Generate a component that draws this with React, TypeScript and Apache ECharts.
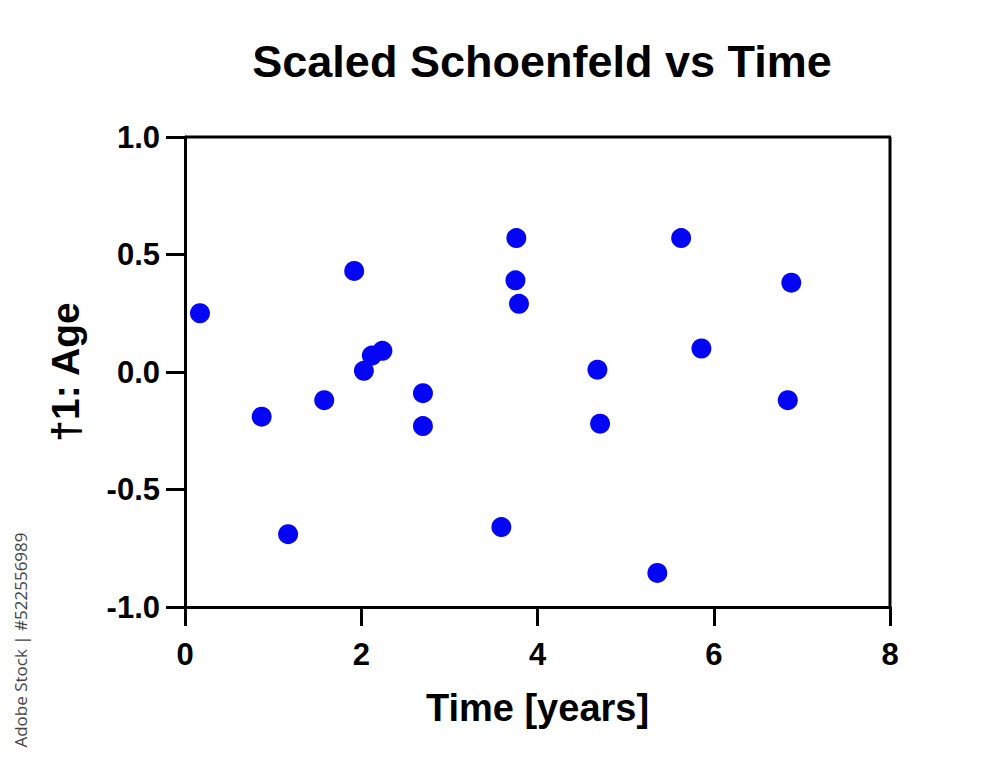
import React, { useEffect, useRef } from "react";
import * as echarts from "echarts";

const timeValues = [0.17, 0.87, 1.17, 1.58, 1.92, 2.03, 2.12, 2.24, 2.7, 2.7, 3.59, 3.76, 3.75, 3.79, 4.68, 4.71, 5.36, 5.63, 5.86, 6.84, 6.88];
const residualValues = [0.25, -0.19, -0.69, -0.12, 0.43, 0.005, 0.07, 0.09, -0.09, -0.23, -0.66, 0.57, 0.39, 0.29, 0.01, -0.22, -0.855, 0.57, 0.1, -0.12, 0.38];
const xTicks = [0, 2, 4, 6, 8];
const yTicks = [-1.0, -0.5, 0.0, 0.5, 1.0];

const FONT = "'Liberation Sans', Arial, Helvetica, sans-serif";

export default function App() {
  const ref = useRef<HTMLDivElement>(null);
  useEffect(() => {
    document.body.style.margin = "0";
    const chart = echarts.init(ref.current!, null, { renderer: "svg" });
    const data = timeValues.map((t, i) => [t, residualValues[i]]);
    chart.setOption({
      animation: false,
      backgroundColor: "#ffffff",
      title: {
        text: "Scaled Schoenfeld vs Time",
        left: 537,
        textAlign: "center",
        top: 34,
        textStyle: { fontFamily: FONT, fontWeight: "bold", fontSize: 45, color: "#000" },
      },
      grid: { left: 185, right: 110, top: 137, bottom: 159, show: false },
      xAxis: {
        type: "value",
        min: xTicks[0],
        max: xTicks[xTicks.length - 1],
        interval: 2,
        name: "Time [years]",
        nameLocation: "middle",
        nameGap: 82,
        nameTextStyle: { fontFamily: FONT, fontWeight: "bold", fontSize: 38, color: "#000" },
        axisLine: { show: true, onZero: false, lineStyle: { color: "#000", width: 3 } },
        axisTick: { show: true, length: 19, lineStyle: { color: "#000", width: 3 } },
        axisLabel: { fontFamily: FONT, fontWeight: "bold", fontSize: 31, color: "#000", margin: 32 },
        splitLine: { show: false },
      },
      yAxis: {
        type: "value",
        min: yTicks[0],
        max: yTicks[yTicks.length - 1],
        interval: 0.5,
        name: "\u20201: Age",
        nameLocation: "middle",
        nameGap: 100,
        nameTextStyle: { fontFamily: FONT, fontWeight: "bold", fontSize: 39, color: "#000" },
        axisLine: { show: true, onZero: false, lineStyle: { color: "#000", width: 3 } },
        axisTick: { show: true, length: 19, lineStyle: { color: "#000", width: 3 } },
        axisLabel: {
          fontFamily: FONT, fontWeight: "bold", fontSize: 31, color: "#000", margin: 25,
          formatter: (v: number) => v.toFixed(1),
        },
        splitLine: { show: false },
      },
      graphic: [
        { type: "line", shape: { x1: 185, y1: 137, x2: 891, y2: 137 }, style: { stroke: "#000", lineWidth: 3 }, z: 10 },
        { type: "line", shape: { x1: 890, y1: 137, x2: 890, y2: 607 }, style: { stroke: "#000", lineWidth: 3 }, z: 10 },
        {
          type: "text",
          x: 20,
          y: 640,
          rotation: Math.PI / 2,
          style: {
            text: "Adobe Stock | #522556989",
            fill: "#444",
            font: "17px 'Open Sans', sans-serif",
            align: "center",
            verticalAlign: "middle",
          },
        },
      ],
      series: [
        {
          type: "scatter",
          data,
          symbol: "circle",
          symbolSize: 20,
          itemStyle: { color: "#0505f5", opacity: 1 },
        },
      ],
    });
    return () => chart.dispose();
  }, []);
  return <div ref={ref} style={{ width: 1000, height: 766 }} />;
}
